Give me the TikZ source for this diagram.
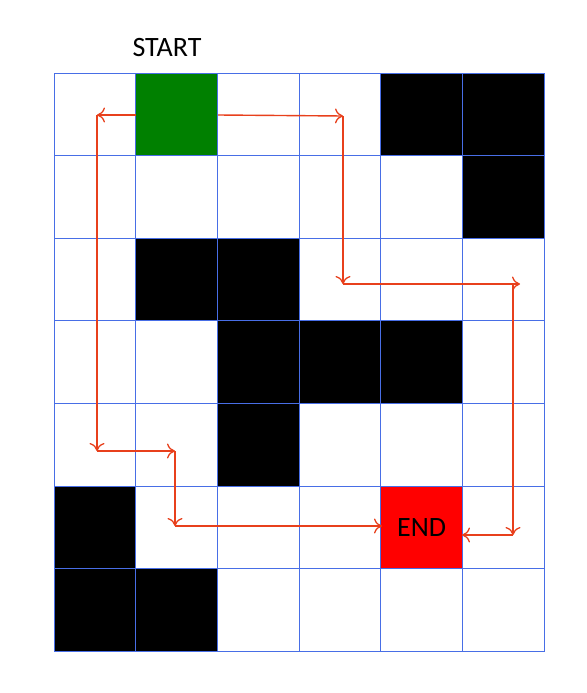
\documentclass[tikz,border=0pt]{standalone}
\usepackage{fontspec}
\setmainfont{Carlito}
\usetikzlibrary{arrows.meta}
\definecolor{gridblue}{RGB}{72,110,230}
\definecolor{pathred}{RGB}{232,64,28}
\definecolor{startgreen}{RGB}{0,128,0}
\definecolor{endred}{RGB}{255,0,0}
\tikzset{
  cell/.style={draw=gridblue, line width=1pt, minimum width=81.7pt, minimum height=82.6pt, inner sep=0pt, outer sep=0pt},
  wall/.style={cell, fill=black},
  free/.style={cell, fill=white},
  route/.style={draw=pathred, line width=1.4pt, -{To[length=8pt,width=15pt,line width=1.3pt]}},
  label/.style={font=\fontsize{28}{30}\selectfont, text=black}
}
\begin{document}
\begin{tikzpicture}[x=1pt,y=-1pt]
\useasboundingbox (0,0) rectangle (586,693);
% grid: columns 0..5, rows 0..6
\foreach \r in {0,...,6}{
  \foreach \c in {0,...,5}{
    \node[free] (c\r\c) at ({54+81.7*\c+40.85},{73+82.6*\r+41.3}) {};
  }
}
% walls
\foreach \r/\c in {0/4,0/5,1/5,2/1,2/2,3/2,3/3,3/4,4/2,5/0,6/0,6/1}{
  \node[wall] at (c\r\c) {};
}
\node[cell, fill=startgreen] (start) at (c01) {};
\node[cell, fill=endred, label] (end) at (c54) {END};
\node[label] (starttext) at (167,48) {START};
% route points
\coordinate (a1) at (97,115);
\coordinate (a2) at (97,451);
\coordinate (a3) at (175,451);
\coordinate (a4) at (175,526);
\coordinate (a5) at (382,526);
\coordinate (b1) at (343,116);
\coordinate (b2) at (343,284);
\coordinate (b3) at (520,284);
\coordinate (b4) at (513,284);
\coordinate (b5) at (513,535);
\coordinate (b6) at (462,535);
\coordinate (s1) at (136,115);
\coordinate (s2) at (218,115);
\draw[route] (s1) -- (a1);
\draw[route] (a1) -- (a2);
\draw[route] (a2) -- (a3);
\draw[route] (a3) -- (a4);
\draw[route] (a4) -- (a5);
\draw[route] (s2) -- (b1);
\draw[route] (b1) -- (b2);
\draw[route] (b2) -- (b3);
\draw[route] (b4) -- (b5);
\draw[route] (b5) -- (b6);
\end{tikzpicture}
\end{document}
